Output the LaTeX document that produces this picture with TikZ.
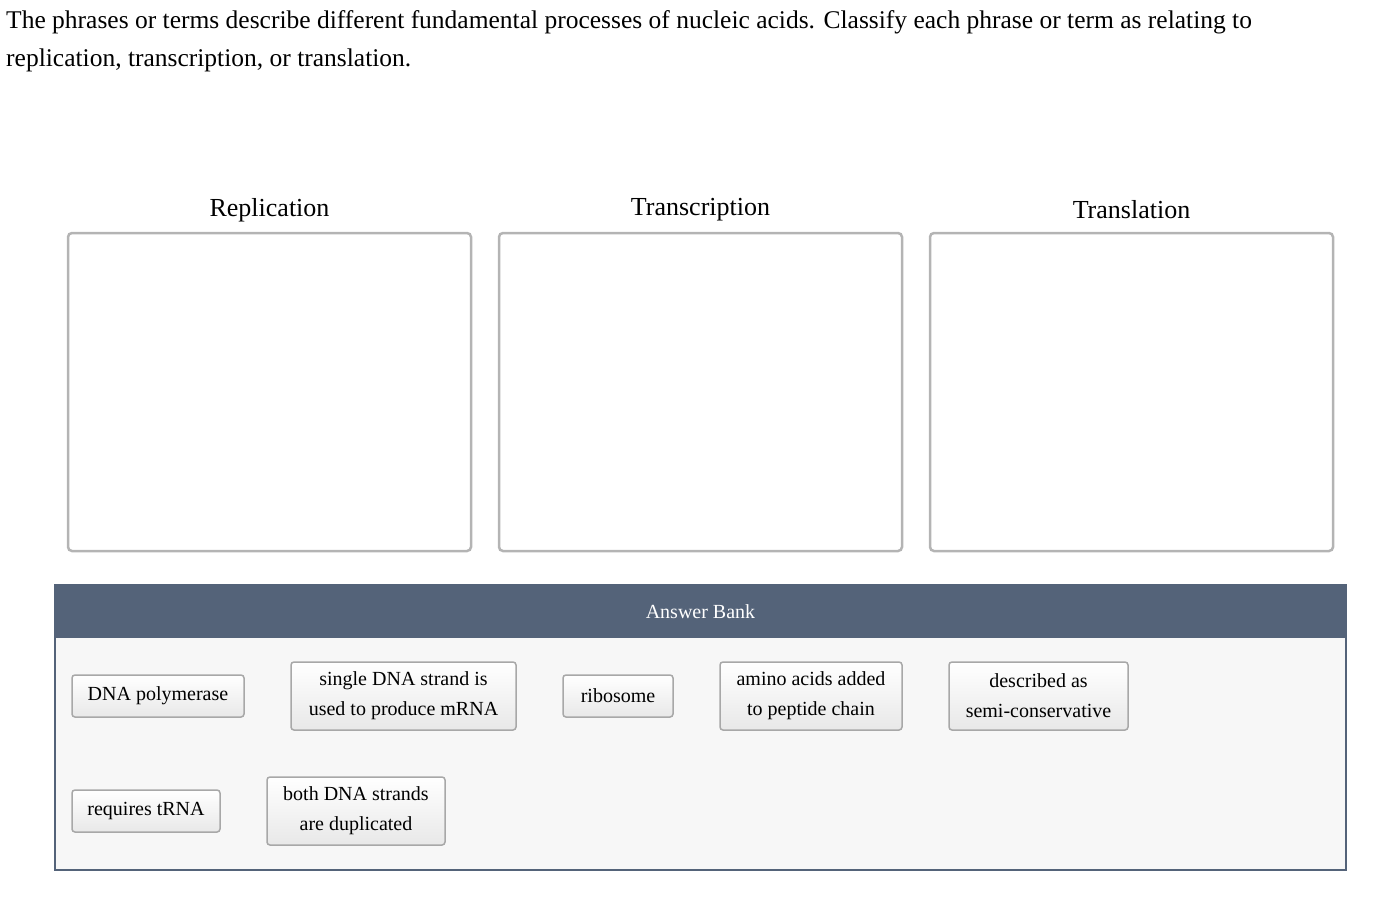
\documentclass[tikz,border=0pt]{standalone}
\usepackage{fontspec}
\setmainfont{Liberation Serif}
\definecolor{bar}{HTML}{546379}
\definecolor{boxgray}{HTML}{B4B4B4}
\definecolor{btnb}{HTML}{A8A8A8}
\definecolor{bankbg}{HTML}{F7F7F7}
\tikzset{
  target/.style={draw=boxgray,line width=2.5pt,rounded corners=4pt,fill=white,minimum width=#1},
  btn/.style={draw=btnb,line width=1.5pt,rounded corners=3pt,top color=white,bottom color=black!9,align=center,inner sep=0pt,font=\fontsize{20}{30}\selectfont},
  lbl/.style={font=\fontsize{26}{30}\selectfont,inner sep=0pt}
}
\begin{document}
\begin{tikzpicture}[x=1pt,y=-1pt]
\useasboundingbox (0,0) rectangle (1392,902);
\node[anchor=north west,align=left,inner sep=0pt,font=\fontsize{25.5}{38}\selectfont] (q) at (6,10) {The phrases or terms describe different fundamental processes of nucleic acids. Classify each phrase or term as relating to\\replication, transcription, or translation.};
\foreach \n/\t/\x in {r/Replication/269.5, s/Transcription/700.5, t/Translation/1131.5}{
  \node[lbl] (\n l) at (\x,210) {\t};
  \node[draw=boxgray,line width=2.5pt,rounded corners=4pt,minimum width=403,minimum height=318,inner sep=0pt] (\n b) at (\x,392) {};
}
\node[draw=bar,line width=1.5pt,fill=bankbg,minimum width=1291,minimum height=285,inner sep=0pt] (bank) at (700.5,727.5) {};
\node[fill=bar,minimum width=1291,minimum height=53,inner sep=0pt,text=white,font=\fontsize{20}{24}\selectfont] (bh) at (700.5,611.5) {Answer Bank};
\node[btn,minimum width=172,minimum height=42] (b1) at (158,696) {DNA polymerase};
\node[btn,minimum width=225,minimum height=68] (b2) at (403.5,696) {single DNA strand is\\used to produce mRNA};
\node[btn,minimum width=110,minimum height=42] (b3) at (618,696) {ribosome};
\node[btn,minimum width=182,minimum height=68] (b4) at (811,696) {amino acids added\\to peptide chain};
\node[btn,minimum width=179,minimum height=68] (b5) at (1038.5,696) {described as\\semi-conservative};
\node[btn,minimum width=148,minimum height=42] (b6) at (146,811) {requires tRNA};
\node[btn,minimum width=178,minimum height=68] (b7) at (356,811) {both DNA strands\\are duplicated};
\end{tikzpicture}
\end{document}
